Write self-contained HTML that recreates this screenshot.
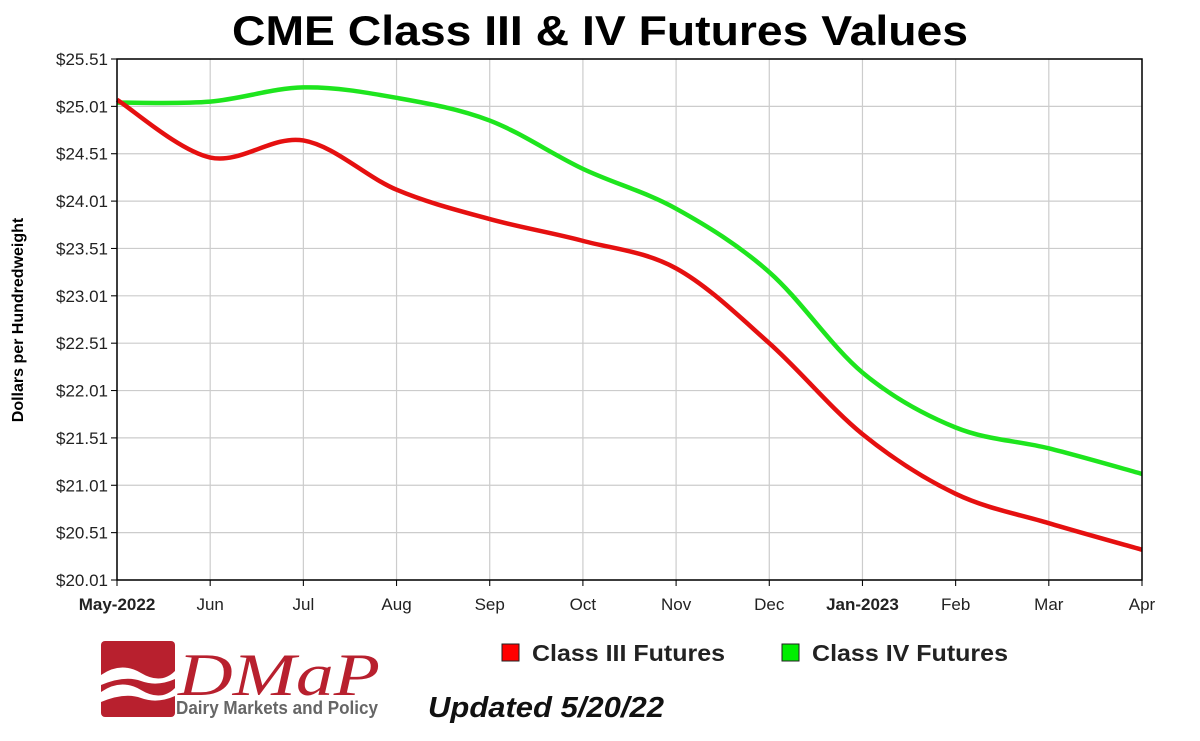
<!DOCTYPE html>
<html><head><meta charset="utf-8"><style>
body{margin:0;background:#fff;width:1200px;height:736px;overflow:hidden;font-family:"Liberation Sans",Arial,sans-serif}
</style></head><body>
<svg id="chart" width="1200" height="736" xmlns="http://www.w3.org/2000/svg" font-family="Liberation Sans, Arial, sans-serif">
<text x="232" y="45" textLength="736" lengthAdjust="spacingAndGlyphs" font-size="42" font-weight="bold" fill="#000">CME Class III &amp; IV Futures Values</text>
<text transform="translate(23,320) rotate(-90)" text-anchor="middle" font-size="16" font-weight="bold">Dollars per Hundredweight</text>
<g id="grid"></g><g id="ticks"></g><g id="lines"></g>
<rect x="117" y="59" width="1025" height="521" fill="none" stroke="#000" stroke-width="1.5"/>
<g>
<rect x="502" y="644" width="17" height="17" fill="#f00" stroke="#222"/>
<text x="532" y="661" textLength="193" lengthAdjust="spacingAndGlyphs" font-size="23" font-weight="bold" fill="#222">Class III Futures</text>
<rect x="782" y="644" width="17" height="17" fill="#0e0" stroke="#222"/>
<text x="812" y="661" textLength="196" lengthAdjust="spacingAndGlyphs" font-size="23" font-weight="bold" fill="#222">Class IV Futures</text>
</g>
<text x="428" y="717" textLength="236" lengthAdjust="spacingAndGlyphs" font-size="29" font-weight="bold" font-style="italic" fill="#111">Updated 5/20/22</text>
<g>
<rect x="101" y="641" width="74" height="76" rx="4" fill="#b8202e"/>
<path d="M101 675 q20 -14 40 -2 t34 -2 v8 q-18 8 -34 2 t-40 4z M101 692 q20 -14 40 -2 t34 -2 v8 q-18 8 -34 2 t-40 4z" fill="#fff"/>
<text x="178" y="695" textLength="202" lengthAdjust="spacingAndGlyphs" font-family="Liberation Serif, serif" font-style="italic" font-size="60" fill="#b8202e">DMaP</text>
<text x="176" y="714" textLength="202" lengthAdjust="spacingAndGlyphs" font-size="18" font-weight="bold" fill="#666">Dairy Markets and Policy</text>
</g>
</svg>
<script>
const months=["May-2022","Jun","Jul","Aug","Sep","Oct","Nov","Dec","Jan-2023","Feb","Mar","Apr"];
const boldMonths=["May-2022","Jan-2023"];
const classIII=[25.08,24.47,24.65,24.13,23.82,23.59,23.30,22.51,21.55,20.92,20.61,20.33];
const classIV=[25.05,25.06,25.21,25.10,24.86,24.35,23.93,23.26,22.20,21.62,21.40,21.13];
const yTicks=[20.01,20.51,21.01,21.51,22.01,22.51,23.01,23.51,24.01,24.51,25.01,25.51];
const NS="http://www.w3.org/2000/svg";
const L=117,R=1142,T=59,B=580,ymin=20.01,ymax=25.51;
const x=i=>L+(R-L)*i/(months.length-1);
const y=v=>B-(v-ymin)/(ymax-ymin)*(B-T);
function mk(tag,attrs,parent){const e=document.createElementNS(NS,tag);for(const k in attrs)e.setAttribute(k,attrs[k]);parent.appendChild(e);return e;}
const grid=document.getElementById('grid'),ticks=document.getElementById('ticks'),lines=document.getElementById('lines');
yTicks.forEach(v=>{
 const g=mk('line',{x1:L-6,x2:R,y1:y(v),y2:y(v),stroke:'#ccc','stroke-width':1.2},grid);
 
 
 mk('line',{x1:L-6,x2:L,y1:y(v),y2:y(v),stroke:'#000'},ticks);
 const t=mk('text',{x:L-9,y:y(v)+6,'text-anchor':'end','font-size':17,fill:'#222'},ticks);
 t.textContent='$'+v.toFixed(2);
 
 
});
months.forEach((m,i)=>{
 const g=mk('line',{x1:x(i),x2:x(i),y1:T,y2:B+6,stroke:'#ccc','stroke-width':1.2},grid);
 
 
 mk('line',{x1:x(i),x2:x(i),y1:B,y2:B+6,stroke:'#000'},ticks);
 const t=mk('text',{x:x(i),y:B+30,'text-anchor':'middle','font-size':17,fill:'#222','font-weight':boldMonths.includes(m)?'bold':'normal'},ticks);
 t.textContent=m;
 
 
});
function path(vals){
 const p=vals.map((v,i)=>[x(i),y(v)]);
 let d='M'+p[0][0]+' '+p[0][1];
 for(let i=0;i<p.length-1;i++){
  const p0=p[Math.max(0,i-1)],p1=p[i],p2=p[i+1],p3=p[Math.min(p.length-1,i+2)];
  const c1=[p1[0]+(p2[0]-p0[0])/6,p1[1]+(p2[1]-p0[1])/6],c2=[p2[0]-(p3[0]-p1[0])/6,p2[1]-(p3[1]-p1[1])/6];
  d+=` C${c1[0]} ${c1[1]} ${c2[0]} ${c2[1]} ${p2[0]} ${p2[1]}`;
 }
 return d;
}
const l4=mk('path',{d:path(classIV),fill:'none',stroke:'#1ee51e','stroke-width':4.5},lines);


const l3=mk('path',{d:path(classIII),fill:'none',stroke:'#e51010','stroke-width':4.5},lines);


</script>
</body></html>
